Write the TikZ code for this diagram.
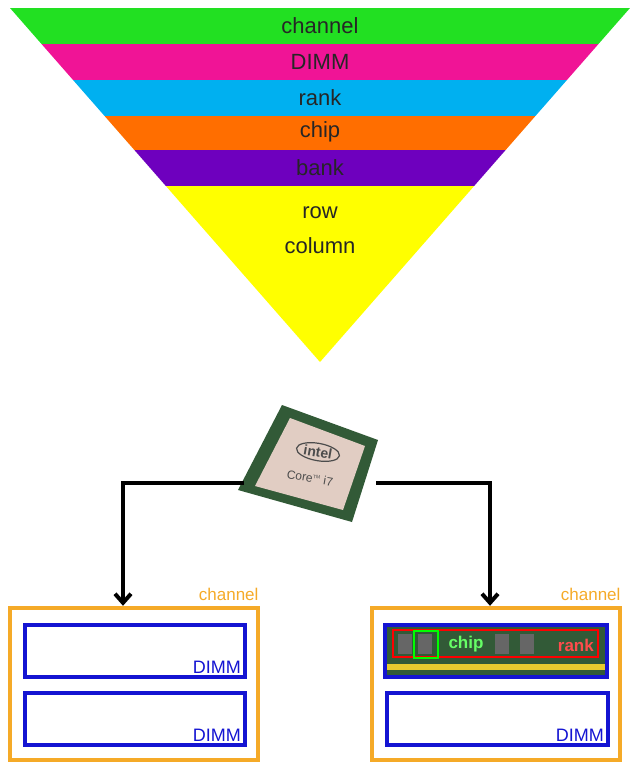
\documentclass[tikz,border=0pt]{standalone}
\usepackage{fontspec}
\setmainfont{Liberation Sans}
\usetikzlibrary{arrows.meta,shapes.geometric}
\definecolor{gG}{RGB}{34,224,34}
\definecolor{gM}{RGB}{240,20,150}
\definecolor{gC}{RGB}{0,176,240}
\definecolor{gO}{RGB}{255,110,0}
\definecolor{gP}{RGB}{110,0,190}
\definecolor{gY}{RGB}{255,255,0}
\definecolor{chanO}{RGB}{245,170,40}
\definecolor{dimB}{RGB}{20,20,210}
\definecolor{pcb}{RGB}{50,90,55}
\definecolor{lid}{RGB}{225,205,195}
\begin{document}
\begin{tikzpicture}[x=1pt,y=-1pt,
 lvl/.style={font=\fontsize{22}{22}\selectfont,text=black!85},
 chan/.style={draw=chanO,line width=3.5pt},
 dimm/.style={draw=dimB,line width=3.5pt},
 chl/.style={text=chanO,font=\fontsize{17}{17}\selectfont},
 dml/.style={text=dimB,font=\fontsize{18}{18}\selectfont,anchor=south east,inner sep=3pt},
 arr/.style={line width=4pt,-{Straight Barb[length=9pt,width=16pt]}}]
\useasboundingbox (0,0) rectangle (631,766);
\begin{scope}
\clip (10,8) -- (630,8) -- (320,362) -- cycle;
\fill[gG] (0,8) rectangle (640,44);
\fill[gM] (0,44) rectangle (640,80);
\fill[gC] (0,80) rectangle (640,116);
\fill[gO] (0,116) rectangle (640,150);
\fill[gP] (0,150) rectangle (640,186);
\fill[gY] (0,186) rectangle (640,370);
\end{scope}
\node[lvl] (l1) at (320,26) {channel};
\node[lvl] (l2) at (320,62) {DIMM};
\node[lvl] (l3) at (320,98) {rank};
\node[lvl] (l4) at (320,132) {chip};
\node[lvl] (l5) at (320,168) {bank};
\node[lvl] (l6) at (320,213) {row};
\node[lvl] (l7) at (320,246) {column};
% CPU
\fill[pcb] (282,405) -- (378,440) -- (352,522) -- (238,490) -- cycle;
\fill[lid] (290,418) -- (365,446) -- (343,510) -- (255,486) -- cycle;
\node[draw=black!70,ellipse,line width=1.2pt,inner sep=1pt,rotate=-10,font=\bfseries\fontsize{14}{14}\selectfont,text=black!70] (intel) at (318,452) {intel};
\node[rotate=-10,font=\fontsize{12}{12}\selectfont,text=black!70] (core) at (310,478) {Core\textsuperscript{\tiny TM} i7};
\coordinate (cpuL) at (244,483);
\coordinate (cpuR) at (376,483);
% channels
\draw[chan] (10,608) rectangle (258,760);
\draw[chan] (372,608) rectangle (620,760);
\node[chl,anchor=south east] (c1) at (262,604) {channel};
\node[chl,anchor=south east] (c2) at (624,604) {channel};
\node[draw=none,inner sep=0,minimum size=0] (tl) at (123,606) {};
\node[draw=none,inner sep=0,minimum size=0] (tr) at (490,606) {};
\draw[arr] (cpuL) -- (123,483) -- (tl);
\draw[arr] (cpuR) -- (490,483) -- (tr);
\draw[dimm] (25,625) rectangle (245,677);
\draw[dimm] (25,693) rectangle (245,745);
\node[dml] (d1) at (244,677) {DIMM};
\node[dml] (d2) at (244,745) {DIMM};
% right DIMMs
\fill[pcb] (385,625) rectangle (607,677);
\fill[yellow!60!brown] (387,664) rectangle (606,670);
\foreach \x in {398,418,495,520}{\fill[black!60] (\x,634) rectangle ++(14,20);}
\draw[dimm] (385,625) rectangle (607,677);
\draw[red,line width=2.5pt] (393,630) rectangle (598,657);
\draw[green,line width=2.5pt] (414,631) rectangle (438,658);
\node[text=green!60!white,font=\bfseries\fontsize{17}{17}\selectfont] (chip) at (466,644) {chip};
\node[text=red!70!white,font=\bfseries\fontsize{17}{17}\selectfont,anchor=east,inner sep=1pt] (rank) at (595,645) {rank};
\draw[dimm] (387,693) rectangle (608,745);
\node[dml] (d3) at (607,745) {DIMM};
\end{tikzpicture}
\end{document}
